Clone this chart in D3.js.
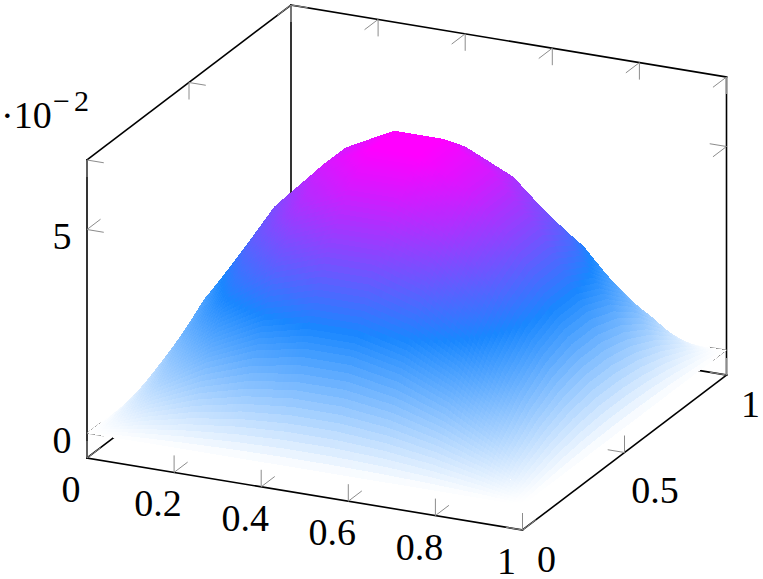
<!DOCTYPE html>
<html>
<head>
<meta charset="utf-8">
<script src="https://cdn.jsdelivr.net/npm/d3@7/dist/d3.min.js"></script>
<style>
  body { margin: 0; background: #fff; }
  svg { display: block; }
  text { font-family: "Liberation Serif", serif; fill: #000; }
</style>
</head>
<body>
<script>
// sample grid (z in units of 10^-2)
var xGrid = [0, 0.1111, 0.2222, 0.3333, 0.4444, 0.5556, 0.6667, 0.7778, 0.8889, 1];
var yGrid = [0, 0.1111, 0.2222, 0.3333, 0.4444, 0.5556, 0.6667, 0.7778, 0.8889, 1];
var zGrid = [
  [0, 0,     0,     0,     0,     0,     0,     0,     0,     0],
  [0, 0.975, 1.707, 2.195, 2.439, 2.439, 2.195, 1.707, 0.975, 0],
  [0, 1.707, 2.987, 3.841, 4.268, 4.268, 3.841, 2.987, 1.707, 0],
  [0, 2.195, 3.841, 4.938, 5.487, 5.487, 4.938, 3.841, 2.195, 0],
  [0, 2.439, 4.268, 5.487, 6.097, 6.097, 5.487, 4.268, 2.439, 0],
  [0, 2.439, 4.268, 5.487, 6.097, 6.097, 5.487, 4.268, 2.439, 0],
  [0, 2.195, 3.841, 4.938, 5.487, 5.487, 4.938, 3.841, 2.195, 0],
  [0, 1.707, 2.987, 3.841, 4.268, 4.268, 3.841, 2.987, 1.707, 0],
  [0, 0.975, 1.707, 2.195, 2.439, 2.439, 2.195, 1.707, 0.975, 0],
  [0, 0,     0,     0,     0,     0,     0,     0,     0,     0]
];
var xTicks = [0, 0.2, 0.4, 0.6, 0.8, 1];
var yTicks = [0, 0.5, 1];
var zTicks = [0, 5];
var zFactor = "10";
var zExponent = ["\u2212", "2"];

var svg = d3.select("body").append("svg")
  .attr("width", 763)
  .attr("height", 579);

// box geometry on screen
var O = [87, 458],
    EX = [435.5, 72],
    EY = [204, -155],
    EZ = [0, -298];

var allZ = d3.merge(zGrid),
    zLo = d3.min(allZ),
    zHi = d3.max(allZ),
    zPad = (zHi - zLo) * 0.1;

var xScale = d3.scaleLinear().domain([0, 1]).range([0, 1]);
var yScale = d3.scaleLinear().domain([0, 1]).range([0, 1]);
var zScale = d3.scaleLinear().domain([zLo - zPad, zHi + zPad]).range([0, 1]);
var zMin = zScale.domain()[0], zMax = zScale.domain()[1];

var color = d3.scaleLinear()
  .domain([zLo, zLo + (zHi - zLo) * 0.47, zHi])
  .range(["#ffffff", "rgb(25,135,255)", "#ff00ff"]);

function proj(x, y, z) {
  var a = xScale(x), b = yScale(y), c = zScale(z);
  return [O[0] + a * EX[0] + b * EY[0] + c * EZ[0],
          O[1] + a * EX[1] + b * EY[1] + c * EZ[1]];
}

function unit(v, s) {
  var l = Math.sqrt(v[0] * v[0] + v[1] * v[1]);
  return [s * v[0] / l, s * v[1] / l];
}

// back box lines
var boxLines = [
  [[0, 0, zMin], [0, 0, zMax]],
  [[0, 1, zMin], [0, 1, zMax]],
  [[1, 1, zMin], [1, 1, zMax]],
  [[0, 0, zMax], [0, 1, zMax]],
  [[0, 1, zMax], [1, 1, zMax]],
  [[0, 0, zMin], [0, 1, zMin]],
  [[0, 1, zMin], [1, 1, zMin]],
  [[0, 0, zMin], [1, 0, zMin]],
  [[1, 0, zMin], [1, 1, zMin]]
];

svg.append("g").selectAll("line")
  .data(boxLines)
  .enter()
  .append("line")
  .attr("x1", function(d) { return proj.apply(null, d[0])[0]; })
  .attr("y1", function(d) { return proj.apply(null, d[0])[1]; })
  .attr("x2", function(d) { return proj.apply(null, d[1])[0]; })
  .attr("y2", function(d) { return proj.apply(null, d[1])[1]; })
  .attr("stroke", "#000")
  .attr("stroke-width", 1.6)
  .attr("stroke-linecap", "square");

// tick marks: position plus two directions
var tickLen = 17;
var ticks = [];
xTicks.forEach(function(t) {
  ticks.push({p: [t, 0, zMin], d: [unit(EY, 1), unit(EZ, 1)]});
  ticks.push({p: [t, 1, zMax], d: [unit(EY, -1), unit(EZ, -1)]});
});
yTicks.forEach(function(t) {
  ticks.push({p: [1, t, zMin], d: [unit(EX, -1), unit(EZ, 1)]});
  ticks.push({p: [0, t, zMax], d: [unit(EX, 1), unit(EZ, -1)]});
});
zTicks.forEach(function(t) {
  ticks.push({p: [0, 0, t], d: [unit(EX, 1), unit(EY, 1)]});
  ticks.push({p: [1, 1, t], d: [unit(EX, -1), unit(EY, -1)]});
});

var tickSegs = [];
ticks.forEach(function(t) {
  var p = proj.apply(null, t.p);
  t.d.forEach(function(dir) {
    tickSegs.push([p, [p[0] + dir[0] * tickLen, p[1] + dir[1] * tickLen]]);
  });
});

svg.append("g").selectAll("line")
  .data(tickSegs)
  .enter()
  .append("line")
  .attr("x1", function(d) { return d[0][0]; })
  .attr("y1", function(d) { return d[0][1]; })
  .attr("x2", function(d) { return d[1][0]; })
  .attr("y2", function(d) { return d[1][1]; })
  .attr("stroke", "#8c8c8c")
  .attr("stroke-width", 1);

// surface, each cell split into small patches for smooth shading
var sub = 14;
var patches = [];
for (var j = 0; j < yGrid.length - 1; j++) {
  for (var i = 0; i < xGrid.length - 1; i++) {
    var z00 = zGrid[j][i], z10 = zGrid[j][i + 1],
        z01 = zGrid[j + 1][i], z11 = zGrid[j + 1][i + 1];
    var bl = function(u, v) {
      return z00 * (1 - u) * (1 - v) + z10 * u * (1 - v) + z01 * (1 - u) * v + z11 * u * v;
    };
    for (var b = 0; b < sub; b++) {
      for (var a = 0; a < sub; a++) {
        var corners = [[a, b], [a + 1, b], [a + 1, b + 1], [a, b + 1]].map(function(c) {
          var u = c[0] / sub, v = c[1] / sub;
          var x = xGrid[i] + u * (xGrid[i + 1] - xGrid[i]);
          var y = yGrid[j] + v * (yGrid[j + 1] - yGrid[j]);
          return {x: x, y: y, z: bl(u, v)};
        });
        var cx = d3.mean(corners, function(c) { return c.x; }),
            cy = d3.mean(corners, function(c) { return c.y; }),
            cz = d3.mean(corners, function(c) { return c.z; });
        patches.push({
          pts: corners.map(function(c) { return proj(c.x, c.y, c.z); }),
          depth: 203 * cx - 437 * cy,
          fill: color(cz)
        });
      }
    }
  }
}
patches.sort(function(p, q) { return p.depth - q.depth; });

svg.append("g")
  .attr("shape-rendering", "crispEdges")
  .selectAll("path")
  .data(patches)
  .enter()
  .append("path")
  .attr("d", function(d) { return "M" + d.pts.map(function(p) { return p[0].toFixed(2) + "," + p[1].toFixed(2); }).join("L") + "Z"; })
  .attr("fill", function(d) { return d.fill; });

// tick labels
var labels = svg.append("g").attr("font-size", 38);

labels.selectAll(".xl")
  .data(xTicks)
  .enter()
  .append("text")
  .attr("text-anchor", "middle")
  .attr("x", function(d) { return proj(d, 0, zMin)[0] - 16; })
  .attr("y", function(d) { return proj(d, 0, zMin)[1] + 44; })
  .text(function(d) { return String(d); });

labels.selectAll(".yl")
  .data(yTicks)
  .enter()
  .append("text")
  .attr("text-anchor", "middle")
  .attr("x", function(d) { return proj(1, d, zMin)[0] + 24 + (String(d).length - 1) * 3.2; })
  .attr("y", function(d) { return proj(1, d, zMin)[1] + 42 + (String(d).length - 1) * 4; })
  .text(function(d) { return String(d); });

labels.selectAll(".zl")
  .data(zTicks)
  .enter()
  .append("text")
  .attr("text-anchor", "end")
  .attr("x", function(d) { return proj(0, 0, d)[0] - 15.5; })
  .attr("y", function(d) { return proj(0, 0, d)[1] + 19.5; })
  .text(function(d) { return String(d); });

var zTop = proj(0, 0, zMax);
labels.append("text")
  .attr("x", 1)
  .attr("y", zTop[1] - 32.5)
  .text("\u00b7" + zFactor);
var sup = labels.append("text")
  .attr("x", 53)
  .attr("y", zTop[1] - 49)
  .attr("font-size", 30);
sup.append("tspan").text(zExponent[0]);
sup.append("tspan").attr("dx", 4).text(zExponent[1]);
</script>
</body>
</html>
